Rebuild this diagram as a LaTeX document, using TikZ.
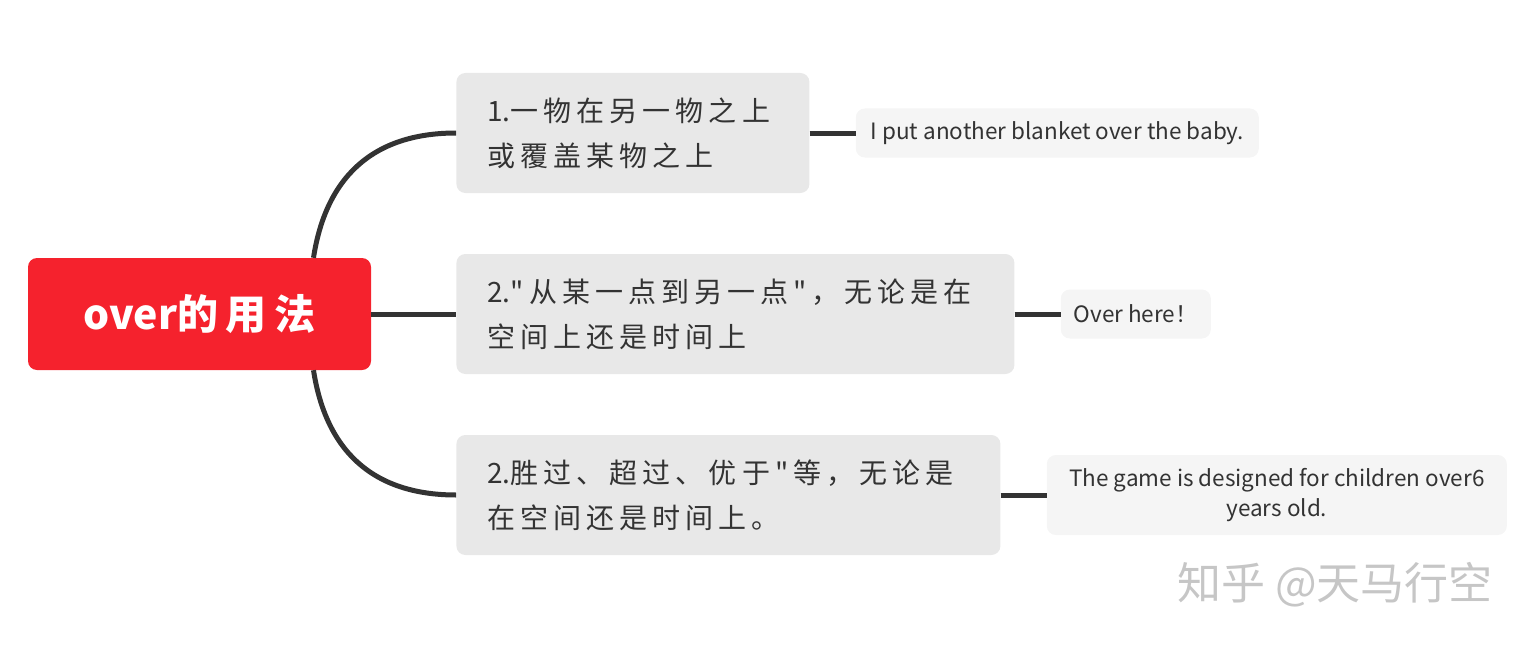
\documentclass[tikz,border=0pt]{standalone}
\usepackage{fontspec}
\setmainfont{Noto Sans CJK SC}
\newfontfamily\spacedcjk{Noto Sans CJK SC}[LetterSpace=18]
\newfontfamily\rootcjk{Noto Sans CJK SC}[LetterSpace=18]
\newcommand{\num}[1]{{\normalfont #1}}
\usetikzlibrary{positioning}
\definecolor{rootred}{HTML}{F5222D}
\definecolor{topicgray}{HTML}{E8E8E8}
\definecolor{leafgray}{HTML}{F5F5F5}
\definecolor{linkgray}{HTML}{333333}
\definecolor{inkgray}{HTML}{333333}

\begin{document}
\begin{tikzpicture}[
    x=1pt, y=-1pt,
    % Box styles
    rootbox/.style={
      rectangle, draw=none, rounded corners=9pt,
      minimum width=343pt, minimum height=112pt,
      fill=rootred, text=white,
      font=\bfseries\fontsize{41}{44}\selectfont
    },
    topicbox/.style={
      rectangle, draw=none, rounded corners=9pt,
      minimum height=120pt, inner xsep=31pt,
      fill=topicgray, text=inkgray, align=left,
      font=\spacedcjk\fontsize{28}{45}\selectfont
    },
    leafbox/.style={
      rectangle, draw=none, rounded corners=9pt,
      minimum height=49pt, inner xsep=10pt,
      fill=leafgray, text=inkgray, align=center,
      font=\fontsize{22.5}{30}\selectfont
    },
    watermarktext/.style={
      text=gray!45, font=\fontsize{44}{50}\selectfont
    },
    % Connector style
    link/.style={draw=linkgray, line width=5pt}
  ]
  \useasboundingbox (0,0) rectangle (1538,650);

  % ============ Root ============
  \node[rootbox] (root) at (199.5,314) {over{\rootcjk 的用法}};

  % ============ Topics ============
  \node[topicbox, text width=291pt, right=85pt of root, yshift=181pt] (topic1)
    {\num{1.}一物在另一物之上\\或覆盖某物之上};
  \node[topicbox, text width=496pt, right=85pt of root] (topic2)
    {\num{2.}"从某一点到另一点"，无论是在\\空间上还是时间上};
  \node[topicbox, text width=482pt, right=85pt of root, yshift=-181pt] (topic3)
    {\num{2.}胜过、超过、优于"等，无论是\\在空间还是时间上。};

  % ============ Examples ============
  \node[leafbox, minimum width=403pt, right=46pt of topic1] (leaf1)
    {I put another blanket over the baby.};
  \node[leafbox, minimum width=150pt, right=46pt of topic2] (leaf2)
    {Over here！};
  \node[leafbox, minimum width=460pt, minimum height=80pt, right=46pt of topic3] (leaf3)
    {The game is designed for children over6\\years old.};

  % ============ Connectors ============
  \draw[link] ([xshift=114pt]root.north) .. controls +(12,-78) and +(-86,0) .. (topic1.west);
  \draw[link] (root.east) -- (topic2.west);
  \draw[link] ([xshift=114pt]root.south) .. controls +(12,78) and +(-86,0) .. (topic3.west);

  \draw[link] (topic1.east) -- (leaf1.west);
  \draw[link] (topic2.east) -- (leaf2.west);
  \draw[link] (topic3.east) -- (leaf3.west);

  % ============ Watermark ============
  \node[watermarktext] (credit) at (1335,585) {知乎 @天马行空};
\end{tikzpicture}
\end{document}
